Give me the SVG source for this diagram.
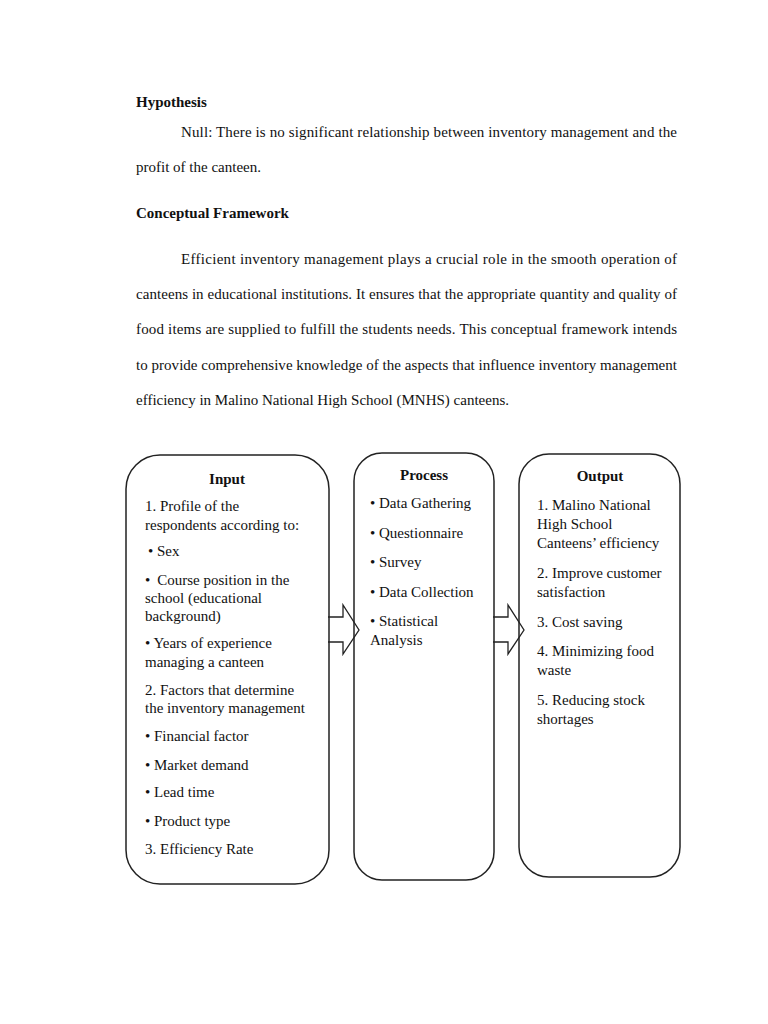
<svg xmlns="http://www.w3.org/2000/svg" width="768" height="1024" viewBox="0 0 768 1024">
<style>
text{font-family:"Liberation Serif","Times New Roman",serif;font-size:15px;fill:#111}
.b{font-weight:bold}
.box{fill:none;stroke:#222;stroke-width:1.5}
.arr{fill:none;stroke:#222;stroke-width:1.3;stroke-linejoin:miter}
</style>
<rect width="768" height="1024" fill="#fff"/>
<g id="text-body">
<text class="b" x="136" y="107">Hypothesis</text>
<text x="181" y="137" textLength="496" lengthAdjust="spacing">Null: There is no significant relationship between inventory management and the</text>
<text x="136" y="172">profit of the canteen.</text>
<text class="b" x="136" y="218">Conceptual Framework</text>
<text x="181" y="264" textLength="496" lengthAdjust="spacing">Efficient inventory management plays a crucial role in the smooth operation of</text>
<text x="136" y="299" textLength="541" lengthAdjust="spacing">canteens in educational institutions. It ensures that the appropriate quantity and quality of</text>
<text x="136" y="334" textLength="541" lengthAdjust="spacing">food items are supplied to fulfill the students needs. This conceptual framework intends</text>
<text x="136" y="370" textLength="541" lengthAdjust="spacing">to provide comprehensive knowledge of the aspects that influence inventory management</text>
<text x="136" y="405">efficiency in Malino National High School (MNHS) canteens.</text>
</g>
<g id="connectors">
<path class="arr" d="M328,617 H343 V605 L359,630 L343,654 V642 H328"/>
<path class="arr" d="M493,617 H508 V605 L524,630 L508,654 V642 H493"/>
</g>
<g id="input">
<rect class="box" x="126" y="455" width="203" height="429" rx="34" ry="34"/>
<text class="b" x="227" y="484" text-anchor="middle">Input</text>
<text x="145" y="511">1. Profile of the</text>
<text x="145" y="530">respondents according to:</text>
<text x="148" y="556">• Sex</text>
<text x="145" y="585">•<tspan dx="7">Course position in the</tspan></text>
<text x="145" y="603">school (educational</text>
<text x="145" y="621">background)</text>
<text x="145" y="648">• Years of experience</text>
<text x="145" y="667">managing a canteen</text>
<text x="145" y="695">2. Factors that determine</text>
<text x="145" y="713">the inventory management</text>
<text x="145" y="741">• Financial factor</text>
<text x="145" y="770">• Market demand</text>
<text x="145" y="797">• Lead time</text>
<text x="145" y="826">• Product type</text>
<text x="145" y="854">3. Efficiency Rate</text>
</g>
<g id="process">
<rect class="box" x="354" y="453" width="140" height="427" rx="28" ry="28"/>
<text class="b" x="424" y="480" text-anchor="middle">Process</text>
<text x="370" y="508">• Data Gathering</text>
<text x="370" y="538">• Questionnaire</text>
<text x="370" y="567">• Survey</text>
<text x="370" y="597">• Data Collection</text>
<text x="370" y="626">• Statistical</text>
<text x="370" y="645">Analysis</text>
</g>
<g id="output">
<rect class="box" x="519" y="454" width="161" height="423" rx="30" ry="30"/>
<text class="b" x="600" y="481" text-anchor="middle">Output</text>
<text x="537" y="510">1. Malino National</text>
<text x="537" y="529">High School</text>
<text x="537" y="548">Canteens’ efficiency</text>
<text x="537" y="578">2. Improve customer</text>
<text x="537" y="597">satisfaction</text>
<text x="537" y="627">3. Cost saving</text>
<text x="537" y="656">4. Minimizing food</text>
<text x="537" y="675">waste</text>
<text x="537" y="705">5. Reducing stock</text>
<text x="537" y="724">shortages</text>
</g>
</svg>
